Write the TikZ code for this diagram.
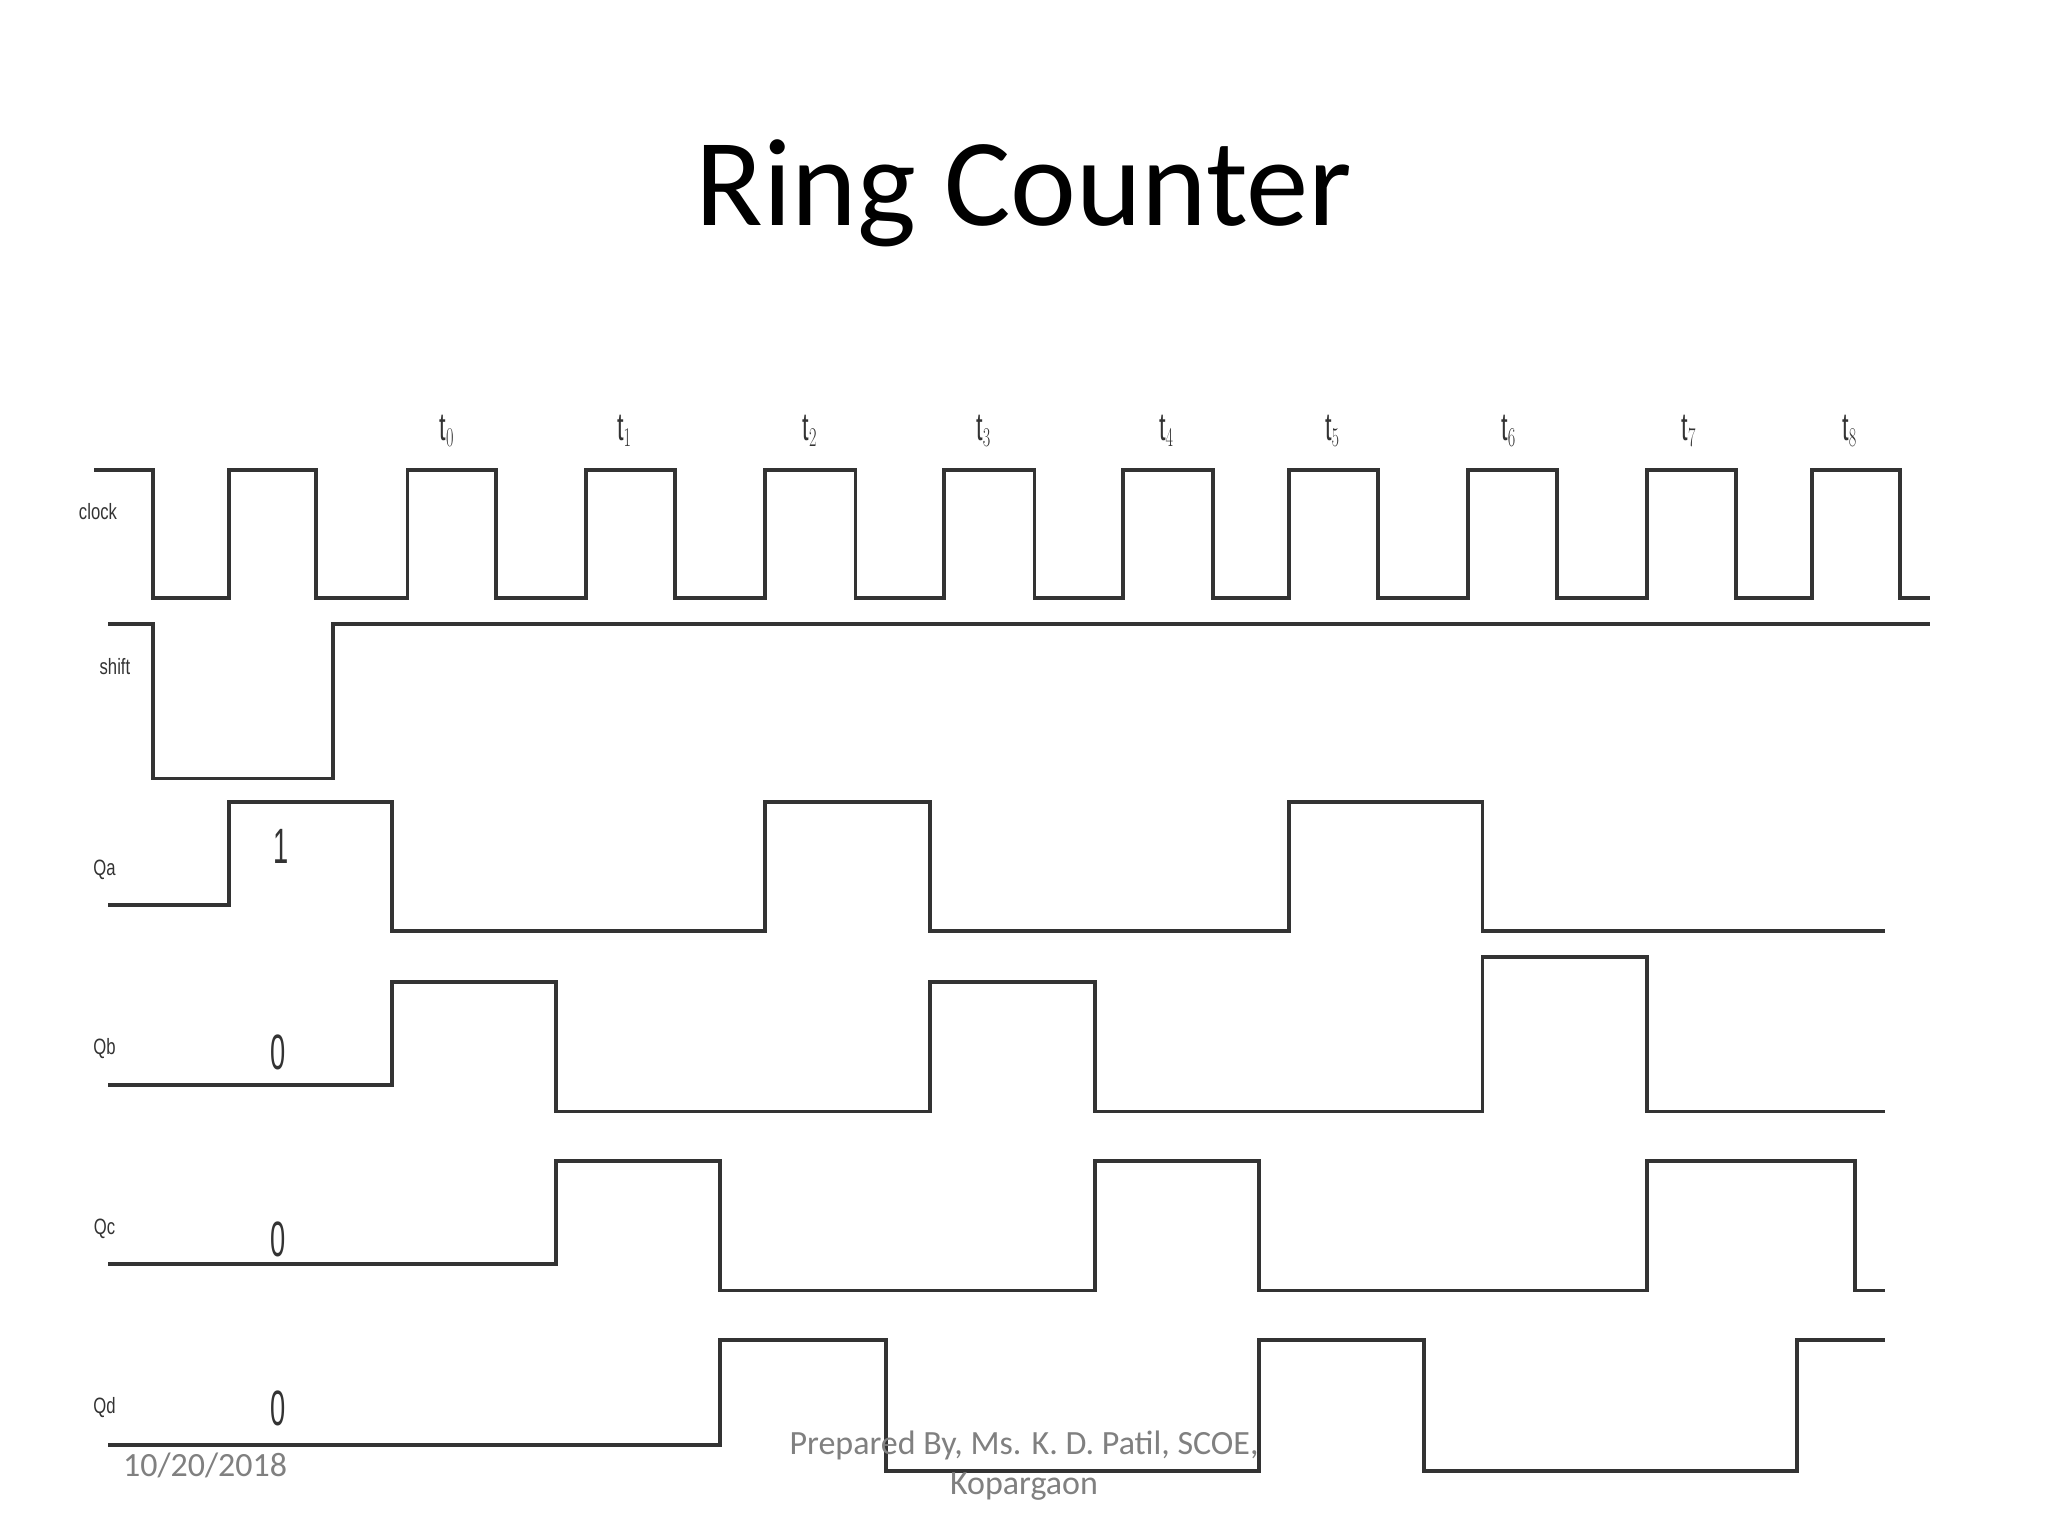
\documentclass[tikz,border=0pt]{standalone}
\usepackage{fontspec}
\setmainfont{Carlito}
\newfontfamily\arialf{Liberation Sans}
\begin{document}
\begin{tikzpicture}[x=1pt,y=-1pt,
  sig/.style={line width=3pt,color=black!80},
  lab/.style={font=\arialf\fontsize{17}{17}\selectfont,xscale=0.75,color=black!80},
  tick/.style={font=\arialf\fontsize{30}{30}\selectfont,xscale=0.6,color=black!80},
  digit/.style={font=\arialf\fontsize{38}{38}\selectfont,xscale=0.55,color=black!80}]
\useasboundingbox[fill=white] (0,0) rectangle (1568,1176);
\node (title) at (784,148) {\fontsize{95.5}{96}\selectfont Ring Counter};
% clock
\draw[sig] (72,360) -- (117,360) -- (117,458) -- (175,458) -- (175,360) -- (242,360) -- (242,458)
 -- (312,458) -- (312,360) -- (380,360) -- (380,458)
 -- (449,458) -- (449,360) -- (517,360) -- (517,458)
 -- (586,458) -- (586,360) -- (655,360) -- (655,458)
 -- (723,458) -- (723,360) -- (792,360) -- (792,458)
 -- (860,458) -- (860,360) -- (929,360) -- (929,458)
 -- (987,458) -- (987,360) -- (1055,360) -- (1055,458)
 -- (1124,458) -- (1124,360) -- (1192,360) -- (1192,458)
 -- (1261,458) -- (1261,360) -- (1329,360) -- (1329,458)
 -- (1387,458) -- (1387,360) -- (1455,360) -- (1455,458) -- (1478,458);
% shift
\draw[sig] (83,478) -- (117,478) -- (117,596) -- (255,596) -- (255,478) -- (1478,478);
% Qa
\draw[sig] (83,693) -- (175,693) -- (175,614) -- (300,614) -- (300,713) -- (586,713) -- (586,614) -- (712,614) -- (712,713) -- (987,713) -- (987,614) -- (1135,614) -- (1135,713) -- (1443,713);
% Qb
\draw[sig] (83,831) -- (300,831) -- (300,752) -- (426,752) -- (426,851) -- (712,851) -- (712,752) -- (838,752) -- (838,851) -- (1135,851) -- (1135,733) -- (1261,733) -- (1261,851) -- (1443,851);
% Qc
\draw[sig] (83,968) -- (426,968) -- (426,889) -- (551,889) -- (551,988) -- (838,988) -- (838,889) -- (964,889) -- (964,988) -- (1261,988) -- (1261,889) -- (1420,889) -- (1420,988) -- (1443,988);
% Qd
\draw[sig] (83,1106) -- (551,1106) -- (551,1026) -- (678,1026) -- (678,1126) -- (964,1126) -- (964,1026) -- (1090,1026) -- (1090,1126) -- (1376,1126) -- (1376,1026) -- (1443,1026);
% labels
\node[lab] (lclock) at (75,392) {clock};
\node[lab] (lshift) at (88,510) {shift};
\node[lab] (lqa) at (80,666) {Qa};
\node[lab] (lqb) at (80,803) {Qb};
\node[lab] (lqc) at (80,941) {Qc};
\node[lab] (lqd) at (80,1078) {Qd};
\foreach \x/\i in {342/0,478/1,620/2,753/3,893/4,1020/5,1155/6,1293/7,1416/8}
  \node[tick] (t\i) at (\x,330) {t$_{\i}$};
\node[digit] (d1) at (215,648) {1};
\node[digit] (d2) at (213,806) {0};
\node[digit] (d3) at (213,949) {0};
\node[digit] (d4) at (213,1078) {0};
% footer
\node[color=black!50,font=\fontsize{26}{26}\selectfont] (date) at (157,1122) {10/20/2018};
\node[color=black!50,font=\fontsize{26}{31}\selectfont,align=center] (prep) at (784,1122) {Prepared By, Ms. K. D. Patil, SCOE,\\Kopargaon};
\end{tikzpicture}
\end{document}
